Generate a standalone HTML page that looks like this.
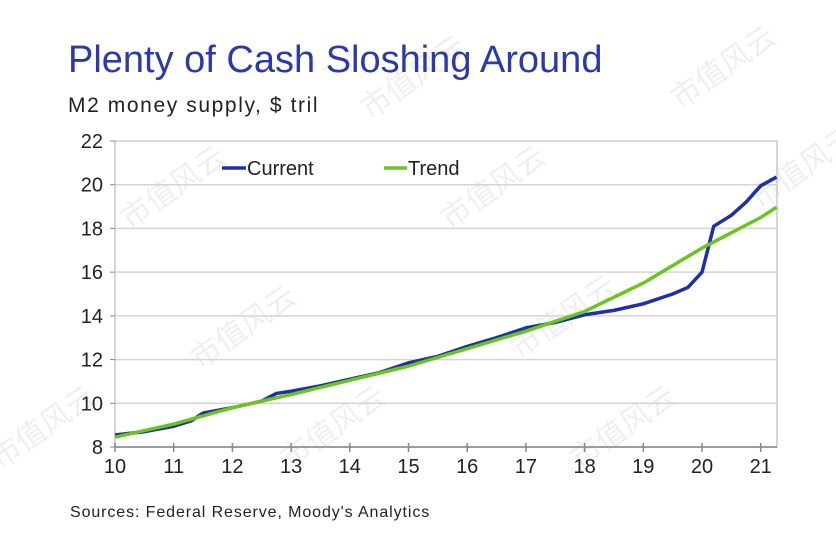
<!DOCTYPE html>
<html><head><meta charset="utf-8"><style>
body{margin:0;width:836px;height:557px;background:#fff;overflow:hidden;font-family:"Liberation Sans",Arial,sans-serif;}
svg{position:absolute;left:0;top:0}
</style></head><body>
<svg width="836" height="557">
<g fill="#efefef" font-size="30" font-family="'Noto Sans CJK SC',sans-serif">
<text transform="translate(130,230) rotate(-35)">市值风云</text>
<text transform="translate(370,120) rotate(-35)">市值风云</text>
<text transform="translate(450,230) rotate(-35)">市值风云</text>
<text transform="translate(200,370) rotate(-35)">市值风云</text>
<text transform="translate(520,360) rotate(-35)">市值风云</text>
<text transform="translate(680,110) rotate(-35)">市值风云</text>
<text transform="translate(760,210) rotate(-35)">市值风云</text>
<text transform="translate(290,470) rotate(-35)">市值风云</text>
<text transform="translate(580,470) rotate(-35)">市值风云</text>
<text transform="translate(0,470) rotate(-35)">市值风云</text>
</g>
<text x="68" y="72" font-size="38" fill="#2b3aa8">Plenty of Cash Sloshing Around</text>
<text x="68" y="112" font-size="21" letter-spacing="1.6" fill="#222">M2 money supply, $ tril</text>
<text x="70" y="517" font-size="16" letter-spacing="0.9" fill="#222">Sources: Federal Reserve, Moody's Analytics</text>
<g id="grid"></g><g id="axes"></g><g id="series"></g>
<g>
<line x1="222" y1="168" x2="246" y2="168" stroke="#1f2fa8" stroke-width="3.5"/>
<text x="247" y="175" font-size="20" fill="#222">Current</text>
<line x1="384" y1="168" x2="407" y2="168" stroke="#6cc41e" stroke-width="3.5"/>
<text x="408" y="175" font-size="20" fill="#222">Trend</text>
</g>
</svg>
<script>
const yTicks=[8,10,12,14,16,18,20,22];
const xTicks=[10,11,12,13,14,15,16,17,18,19,20,21];
const currentX=[10,10.5,11,11.3,11.5,12,12.5,12.75,13,13.5,14,14.5,15,15.5,16,16.5,17,17.5,18,18.5,19,19.5,19.76,20,20.2,20.5,20.75,21,21.27];
const currentY=[8.55,8.7,8.95,9.2,9.55,9.8,10.1,10.45,10.55,10.8,11.1,11.4,11.85,12.15,12.6,13.0,13.45,13.7,14.05,14.25,14.55,15.0,15.3,16.0,18.1,18.6,19.2,19.95,20.35];
const trendX=[10,11,12,13,14,15,16,17,18,19,20,21,21.27];
const trendY=[8.45,9.05,9.8,10.4,11.05,11.7,12.5,13.3,14.2,15.5,17.1,18.5,18.97];
const L=115,R=777,T=141,B=447;
const xs=v=>L+(v-10)*58.7;
const ys=v=>B-(v-8)*(B-T)/14;
const NS='http://www.w3.org/2000/svg';
function mk(t,a,p){const e=document.createElementNS(NS,t);for(const k in a)e.setAttribute(k,a[k]);p.appendChild(e);return e;}
const grid=document.getElementById('grid'),axes=document.getElementById('axes'),ser=document.getElementById('series');
mk('rect',{x:L,y:T,width:R-L,height:B-T,fill:'none',stroke:'#c8c8c8','stroke-width':1.5},grid);
yTicks.forEach(v=>{
 const g=mk('line',{x1:L,x2:R,y1:ys(v),y2:ys(v),stroke:'#d4d4d4','stroke-width':1.5},grid);
 
 
 const t=mk('text',{x:L-12,y:ys(v)+7,'font-size':20,fill:'#222','text-anchor':'end'},axes);t.textContent=v;
 
 
 mk('line',{x1:L-5,x2:L,y1:ys(v),y2:ys(v),stroke:'#888'},axes);
});
mk('line',{x1:L,x2:R,y1:B,y2:B,stroke:'#888','stroke-width':1.5},axes);
xTicks.forEach(v=>{
 mk('line',{x1:xs(v),x2:xs(v),y1:B-4,y2:B+5,stroke:'#888','stroke-width':1.5},axes);
 const t=mk('text',{x:xs(v),y:B+26,'font-size':20,fill:'#222','text-anchor':'middle'},axes);t.textContent=v;
 
 
});
function line(X,Y,c,n){
 const p=mk('polyline',{points:X.map((x,i)=>xs(x)+','+ys(Y[i])).join(' '),fill:'none',stroke:c,'stroke-width':3.5,'stroke-linejoin':'round'},ser);
 
 
}
line(currentX,currentY,'#1f2fa8','current-line');
line(trendX,trendY,'#6cc41e','trend-line');
</script>
</body></html>
